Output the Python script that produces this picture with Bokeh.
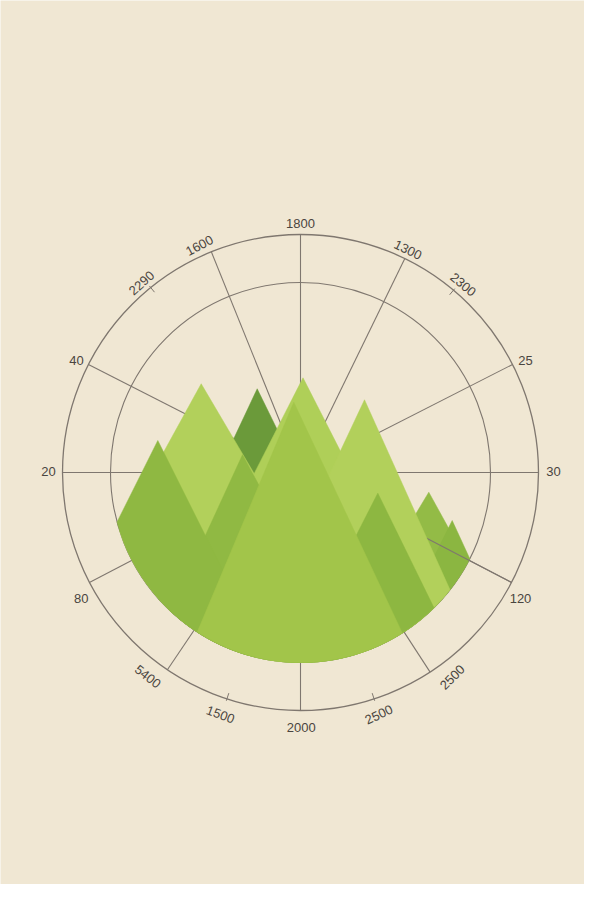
import numpy as np
from bokeh.plotting import figure
from bokeh.models import ColumnDataSource
from bokeh.core.properties import value
from bokeh.embed import file_html
from bokeh.resources import INLINE

# ---------------- data ----------------
outer_radius = 238
inner_radius = 190
spoke_angles = [0, 27, 64, 90, 112, 153, 180, 207.5, 236, 270, 303, 332.5]
overlay_spoke_angle = 332.5
tick_angles = [50, 129, 252, 288]

label_text = ["1800", "1600", "2290", "40", "1300", "2300", "25", "20", "30",
              "80", "120", "5400", "1500", "2000", "2500", "2500"]
label_x = [0, -101, -159, -224, 107.5, 162.7, 225, -252, 253,
           -219.3, 220, -152.7, -80, 0.7, 78.3, 151.7]
label_y = [249, 227, 189.5, 112, 222.7, 188, 112, 1, 1,
           -126.3, -126.3, -204, -242, -255.3, -242, -204.7]
label_angle = [0, 28, 42, 0, -26, -40, 0, 0, 0,
               0, 0, -38, -20, 0, 25, 45]

# mountains, back to front: peak x, peak y, left / right slope (width per unit height)
back_peak_x = [-43.3, 128.3, 151.7]
back_peak_y = [83.7, -19.7, -48.0]
back_left = [0.47, 0.6, 0.5]
back_right = [0.49, 0.55, 0.46]
back_color = ["#6B9A3A", "#93BB46", "#8BB641"]

front_peak_x = [-99.3, 2.5, 64.0, -58.0, -142.7, 77.3, -6.7]
front_peak_y = [88.7, 94.7, 72.7, 17.7, 32.0, -20.7, 70.3]
front_left = [0.55, 0.51, 0.47, 0.46, 0.5, 0.51, 0.42]
front_right = [0.59, 0.51, 0.45, 0.54, 0.5, 0.49, 0.47]
front_color = ["#B2D05B", "#AFCF58", "#B2D05B", "#90B943", "#8FB842", "#8DB741", "#A2C54A"]

BG = "#F0E7D3"
LINE = "#7F776F"
TEXT = "#4A4540"


# ---------------- helpers ----------------
def circle_poly(r, n=360):
    t = np.linspace(0, 2 * np.pi, n, endpoint=False)
    return list(zip(r * np.cos(t), r * np.sin(t)))


def clip_polygon(subject, clipper):
    out = subject
    n = len(clipper)
    for i in range(n):
        ax, ay = clipper[i]
        bx, by = clipper[(i + 1) % n]

        def inside(pt):
            return (bx - ax) * (pt[1] - ay) - (by - ay) * (pt[0] - ax) >= 0

        def inter(p1, q1):
            x1, y1 = p1
            x2, y2 = q1
            dx, dy = x2 - x1, y2 - y1
            ex, ey = bx - ax, by - ay
            den = dx * ey - dy * ex
            if den == 0:
                return q1
            t = ((ax - x1) * ey - (ay - y1) * ex) / den
            return (x1 + t * dx, y1 + t * dy)

        inp = out
        out = []
        if not inp:
            break
        s = inp[-1]
        for e in inp:
            if inside(e):
                if not inside(s):
                    out.append(inter(s, e))
                out.append(e)
            elif inside(s):
                out.append(inter(s, e))
            s = e
    return out


def mountain_source(px, py, sl, sr, cols, clipper):
    xs, ys = [], []
    for x0, y0, l, r in zip(px, py, sl, sr):
        base = -260
        h = y0 - base
        tri = [(x0 - l * h, base), (x0 + r * h, base), (x0, y0)]
        poly = clip_polygon(tri, clipper)
        xs.append([q[0] for q in poly])
        ys.append([q[1] for q in poly])
    return ColumnDataSource(dict(xs=xs, ys=ys, color=cols))


# ---------------- figure ----------------
p = figure(width=584, height=884, x_range=(-300, 284), y_range=(-412, 472),
           output_backend="svg", toolbar_location=None, min_border=0)
p.axis.visible = False
p.grid.visible = False
p.outline_line_color = None
p.background_fill_color = BG
p.border_fill_color = BG

clipper = circle_poly(inner_radius)

# circles
p.circle(x=[0, 0], y=[0, 0], radius=[outer_radius, inner_radius],
         fill_color=None, line_color=LINE, line_width=[1.3, 1.1])

# spokes
a = np.radians(spoke_angles)
p.segment(x0=np.zeros(len(a)), y0=np.zeros(len(a)),
          x1=outer_radius * np.cos(a), y1=outer_radius * np.sin(a),
          line_color=LINE, line_width=1.1)

# small ticks
ta = np.radians(tick_angles)
p.segment(x0=(outer_radius - 6) * np.cos(ta), y0=(outer_radius - 6) * np.sin(ta),
          x1=(outer_radius + 2) * np.cos(ta), y1=(outer_radius + 2) * np.sin(ta),
          line_color=LINE, line_width=1.0)

# back mountains
p.patches("xs", "ys", source=mountain_source(back_peak_x, back_peak_y, back_left, back_right,
                                             back_color, clipper),
          fill_color="color", line_color="color", line_width=0.5)

# spoke that shows over the small far mountains
oa = np.radians(overlay_spoke_angle)
p.segment(x0=[120 * np.cos(oa)], y0=[120 * np.sin(oa)],
          x1=[outer_radius * np.cos(oa)], y1=[outer_radius * np.sin(oa)],
          line_color=LINE, line_width=1.1)

# front mountains
p.patches("xs", "ys", source=mountain_source(front_peak_x, front_peak_y, front_left, front_right,
                                             front_color, clipper),
          fill_color="color", line_color="color", line_width=0.5)

# labels
p.text(x=label_x, y=label_y, text=label_text, angle=np.radians(label_angle),
       text_align="center", text_baseline="middle", text_color=TEXT,
       text_font=value("Liberation Sans"), text_font_size="13px")

open("out.html", "w").write(file_html(p, INLINE))
